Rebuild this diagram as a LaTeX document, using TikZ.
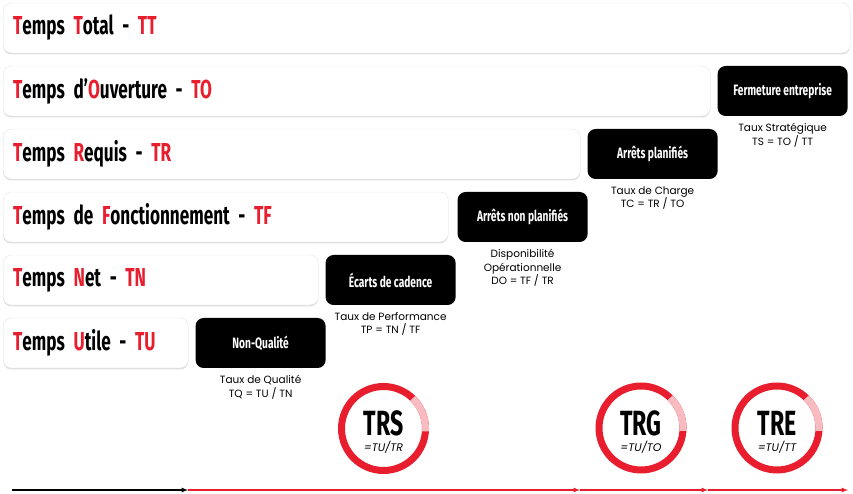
\documentclass[tikz,border=0pt]{standalone}
\usepackage{fontspec}
\usepackage{xcolor}
\usepackage{tikz}
\usetikzlibrary{shapes,arrows,positioning,shadows}
\setmainfont{Poppins}
\newfontfamily\condfont[FakeStretch=0.66]{Fira Sans}
\newfontfamily\lossfam[FakeStretch=0.68]{Fira Sans}
\definecolor{ttred}{RGB}{232,30,46}
\definecolor{ttpink}{RGB}{247,187,192}
\newcommand\hl[1]{\textcolor{ttred}{#1}}
\newcommand\headfont{\condfont\bfseries\fontsize{26}{30}\selectfont\fontdimen2\font=4pt\relax}
\newcommand\lossfont{\lossfam\bfseries\fontsize{15}{16}\selectfont}
\newcommand\ratiofont{\fontsize{10.5}{13.5}\selectfont}

\begin{document}
\begin{tikzpicture}[x=1pt, y=1pt, node distance=7pt,
    timebox/.style={rectangle, rounded corners=8pt, draw=black!10, fill=white, drop shadow={shadow xshift=0pt, shadow yshift=-1.5pt, opacity=0.25}, minimum height=50pt, anchor=west, inner xsep=10pt, align=left, font=\headfont},
    lossbox/.style={rectangle, rounded corners=8pt, fill=black, text=white, minimum width=130pt, minimum height=50pt, font=\lossfont},
    ratio/.style={align=center, inner sep=0pt, font=\ratiofont},
    ring/.style={circle, draw=ttred, line width=7pt, minimum size=84pt, inner sep=0pt},
    ringtext/.style={align=center, inner sep=0pt}]
    \useasboundingbox (0,0) rectangle (853,494);

    \node[timebox, text width=827pt] (tt) at (3,466) {\hl{T}emps \hl{T}otal - \hl{TT}};
    \node[timebox, text width=687pt] (to) at (3,403) {\hl{T}emps d’\hl{O}uverture - \hl{TO}};
    \node[timebox, text width=557pt] (tr) at (3,340) {\hl{T}emps \hl{R}equis - \hl{TR}};
    \node[timebox, text width=425pt] (tf) at (3,277) {\hl{T}emps de \hl{F}onctionnement - \hl{TF}};
    \node[timebox, text width=295pt] (tn) at (3,214) {\hl{T}emps \hl{N}et - \hl{TN}};
    \node[timebox, text width=165pt] (tu) at (3,151) {\hl{T}emps \hl{U}tile - \hl{TU}};

    \node[lossbox, right=of to] (fe) {Fermeture entreprise};
    \node[lossbox, right=of tr] (ap) {Arrêts planifiés};
    \node[lossbox, right=9pt of tf] (anp) {Arrêts non planifiés};
    \node[lossbox, right=of tn] (ec) {Écarts de cadence};
    \node[lossbox, right=of tu] (nq) {Non-Qualité};

    \node[ratio, below=7pt of fe] (ts) {Taux Stratégique\\TS = TO / TT};
    \node[ratio, below=7pt of ap] (tc) {Taux de Charge\\TC = TR / TO};
    \node[ratio, below=7pt of anp] (do) {Disponibilité\\Opérationnelle\\DO = TF / TR};
    \node[ratio, below=7pt of ec] (tp) {Taux de Performance\\TP = TN / TF};
    \node[ratio, below=7pt of nq] (tq) {Taux de Qualité\\TQ = TU / TN};

    \node[ring] (trs) at (383.5,65.5) {};
    \node[ring] (trg) at (641,66) {};
    \node[ring] (tre) at (777,66) {};
    \foreach \r in {trs,trg,tre}
        \draw[ttpink, line width=7pt] ([shift={(-4:42)}]\r.center) arc[start angle=-4, end angle=46, radius=42];
    \node[ringtext] (trslbl) at ([yshift=-4pt]trs.center) {{\condfont\bfseries\fontsize{35}{35}\selectfont TRS}\\[4pt]{\itshape\fontsize{11}{12}\selectfont =TU/TR}};
    \node[ringtext] (trglbl) at ([yshift=-4pt]trg.center) {{\condfont\bfseries\fontsize{35}{35}\selectfont TRG}\\[4pt]{\itshape\fontsize{11}{12}\selectfont =TU/TO}};
    \node[ringtext] (trelbl) at ([yshift=-4pt]tre.center) {{\condfont\bfseries\fontsize{35}{35}\selectfont TRE}\\[4pt]{\itshape\fontsize{11}{12}\selectfont =TU/TT}};

    \coordinate (t0) at (12,4);
    \coordinate (t1) at (188,4);
    \coordinate (t2) at (580,4);
    \coordinate (t3) at (708,4);
    \coordinate (t4) at (848,4);
    \draw[-latex, line width=1.2pt] (t0) -- (t1);
    \draw[-latex, ttred, line width=1.2pt] (t1) -- (t2);
    \draw[-latex, ttred, line width=1.2pt] (t2) -- (t3);
    \draw[-latex, ttred, line width=1.2pt] (t3) -- (t4);
\end{tikzpicture}
\end{document}
